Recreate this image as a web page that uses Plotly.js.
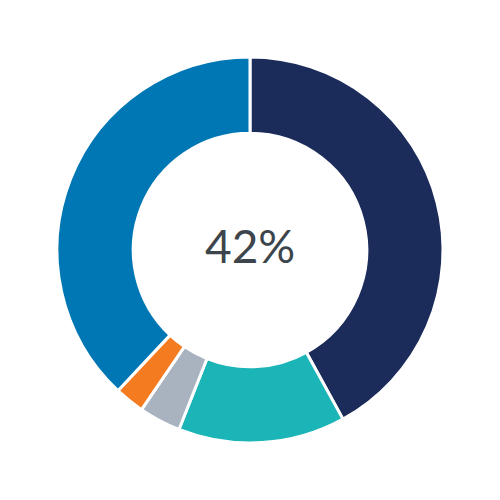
<!DOCTYPE html>
<html>
<head>
<meta charset="utf-8">
<script src="https://cdn.plot.ly/plotly-3.0.1.min.js"></script>
<style>
  html, body { margin: 0; padding: 0; background: #fff; }
  #plot { width: 500px; height: 500px; }
</style>
</head>
<body>
<div id="plot"></div>
<script>
// slices, clockwise from 12 o'clock
var labels = ["Navy", "Teal", "Gray", "Orange", "Blue"];
var values = [42, 14, 3.5, 2.5, 38];
var colors = ["#1b2b5a", "#1bb5b7", "#a9b3c0", "#f47b20", "#0077b5"];
var centerText = "42%";

var trace = {
  type: "pie",
  labels: labels,
  values: values,
  hole: 0.605,
  sort: false,
  direction: "clockwise",
  rotation: 0,
  textinfo: "none",
  hoverinfo: "label+percent",
  marker: { colors: colors, line: { color: "#ffffff", width: 3 } }
};

var layout = {
  width: 500,
  height: 500,
  margin: { l: 57, r: 57, t: 57, b: 57 },
  showlegend: false,
  paper_bgcolor: "#ffffff",
  annotations: [{
    text: centerText,
    x: 0.5, y: 0.5, xref: "paper", yref: "paper",
    yshift: 5,
    showarrow: false,
    font: { family: "Lato", size: 46, color: "#3c454b" }
  }]
};

Plotly.newPlot("plot", [trace], layout, { displayModeBar: false });
</script>
</body>
</html>
